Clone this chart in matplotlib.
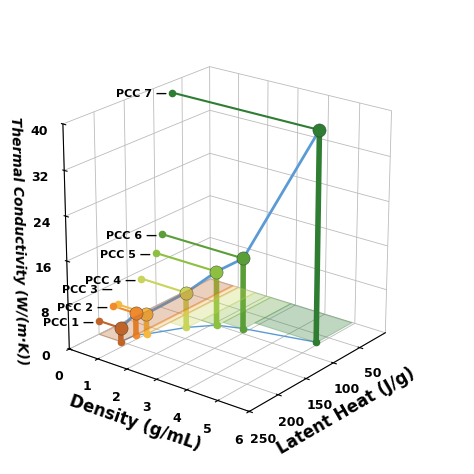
import matplotlib
matplotlib.use("Agg")
import matplotlib.pyplot as plt
import numpy as np
from mpl_toolkits.mplot3d.art3d import Poly3DCollection

labels = ["PCC 1", "PCC 2", "PCC 3", "PCC 4", "PCC 5", "PCC 6", "PCC 7"]
density = [0.77, 0.81, 1.0, 1.57, 2.12, 2.82, 4.89]
latent = [200, 176, 167, 126, 100, 89, 68]
conduct = [2.5, 4.0, 3.8, 6.5, 10.0, 13.0, 38.0]
colors = ["#c0652a", "#f08a2c", "#f5b942", "#c8d45a", "#8dc040", "#5a9e38", "#2e7d32"]
label_dz = [0, 0, 3, 0, 0, 0, 0]

fig = plt.figure(figsize=(4.74, 4.74), dpi=100)
ax = fig.add_axes([0.02, 0.02, 0.9, 0.96], projection="3d")
ax.view_init(elev=22, azim=-52)
ax.set_xlim(0, 6)
ax.set_ylim(250, 0)
ax.set_zlim(0, 40)
ax.set_box_aspect((1, 1, 1.05), zoom=0.92)
ax.zaxis.set_ticks_position('upper')
ax.zaxis.set_label_position('upper')

for pane in (ax.xaxis, ax.yaxis, ax.zaxis):
    pane.set_pane_color((1, 1, 1, 0))
    pane._axinfo["grid"].update(color="#bbbbbb", linewidth=0.6, linestyle="-")

prev = 0
for d, lh, c in zip(density, latent, colors):
    verts = [[(prev, lh, 0), (d, lh, 0), (d, 0, 0), (prev, 0, 0)]]
    ax.add_collection3d(Poly3DCollection(verts, facecolor=c, alpha=0.3, edgecolor=c, linewidth=0.8))
    prev = d

ax.plot(density, latent, [0] * len(density), color="#5b9bd5", lw=1)
ax.plot(density, latent, conduct, color="#5b9bd5", lw=2)

for name, d, lh, z, c, dz in zip(labels, density, latent, conduct, colors, label_dz):
    ax.plot([d, d], [lh, lh], [0, z], color=c, lw=4)
    ax.plot([0, d], [lh, lh], [z, z], color=c, lw=1.5)
    ax.scatter([d], [lh], [z], color=c, s=90, depthshade=False, edgecolor="#333", linewidth=0.3)
    ax.scatter([d], [lh], [0], color=c, s=20, depthshade=False)
    ax.scatter([0], [lh], [z], color=c, s=20, depthshade=False)
    ax.text(0, lh + 8, z + dz, name + " \u2014", ha="right", va="center", fontsize=8, fontweight="bold")

ax.set_xticks([0, 1, 2, 3, 4, 5, 6])
ax.set_yticks([50, 100, 150, 200, 250])
ax.set_zticks([0, 8, 16, 24, 32, 40])
ax.tick_params(labelsize=9)
for t in ax.get_xticklabels() + ax.get_yticklabels() + ax.get_zticklabels():
    t.set_fontweight("bold")
ax.set_xlabel("Density (g/mL)", fontsize=12, fontweight="bold", labelpad=2)
ax.set_ylabel("Latent Heat (J/g)", fontsize=12, fontweight="bold", labelpad=2)
ax.set_zlabel("Thermal Conductivity (W/(m\u00b7K))", fontsize=10, fontweight="bold", style="italic", labelpad=2)
fig.savefig("out.png", dpi=100)
